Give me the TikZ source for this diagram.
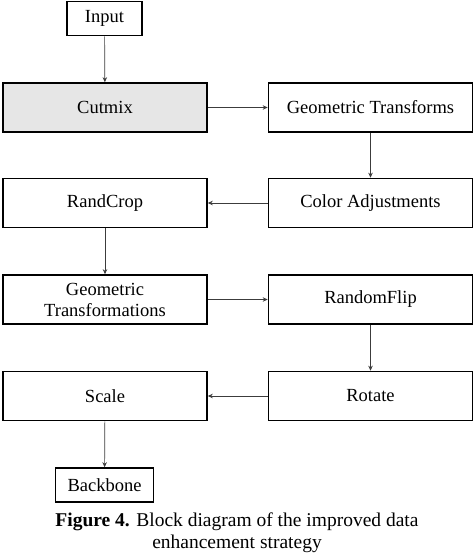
\documentclass[tikz,border=0pt]{standalone}
\usepackage{fontspec}
\setmainfont{Liberation Serif}
\usepackage{tikz}
\usetikzlibrary{arrows.meta,positioning}
\definecolor{boxgray}{RGB}{230,230,230}
\definecolor{linegray}{RGB}{60,60,60}

\begin{document}
\begin{tikzpicture}[x=1pt, y=-1pt, font=\fontsize{18.5}{22}\selectfont,
  >={Stealth[length=5pt, width=4.5pt]},
  block/.style={rectangle, draw=black, line width=1.6pt, fill=white,
                minimum width=204pt, minimum height=49pt, inner sep=2pt, align=center},
  endbox/.style={rectangle, draw=black, line width=1.6pt, fill=white,
                 minimum height=34pt, inner sep=2pt},
  link/.style={->, draw=linegray, line width=0.7pt}]
  \useasboundingbox (0,0) rectangle (474,556);
  \node[endbox, minimum width=75pt] (input) at (104.5,18.5) {Input};
  \node[block, fill=boxgray] (cutmix) at (105,107.5) {Cutmix};
  \node[block] (geotf) at (370.5,107.5) {Geometric Transforms};
  \node[block] (coloradj) at (370.5,203) {Color Adjustments};
  \node[block] (randcrop) at (105,203) {RandCrop};
  \node[block, font=\fontsize{18.5}{21}\selectfont] (geotrans) at (105,299.5)
    {Geometric\\Transformations};
  \node[block] (randflip) at (370.5,299.5) {RandomFlip};
  \node[block] (rotate) at (370.5,396) {Rotate};
  \node[block] (scale) at (105,396) {Scale};
  \node[endbox, minimum width=98pt] (backbone) at (104.5,485) {Backbone};
  \draw[link] (input) -- (cutmix);
  \draw[link] (cutmix) -- (geotf);
  \draw[link] (geotf) -- (coloradj);
  \draw[link] (coloradj) -- (randcrop);
  \draw[link] (randcrop) -- (geotrans);
  \draw[link] (geotrans) -- (randflip);
  \draw[link] (randflip) -- (rotate);
  \draw[link] (rotate) -- (scale);
  \draw[link] (scale) -- (backbone);
  \node[font=\fontsize{19.5}{22}\selectfont, align=center, inner sep=0pt] (caption) at (237,533)
    {\textbf{Figure 4.} Block diagram of the improved data\\enhancement strategy};
\end{tikzpicture}
\end{document}
